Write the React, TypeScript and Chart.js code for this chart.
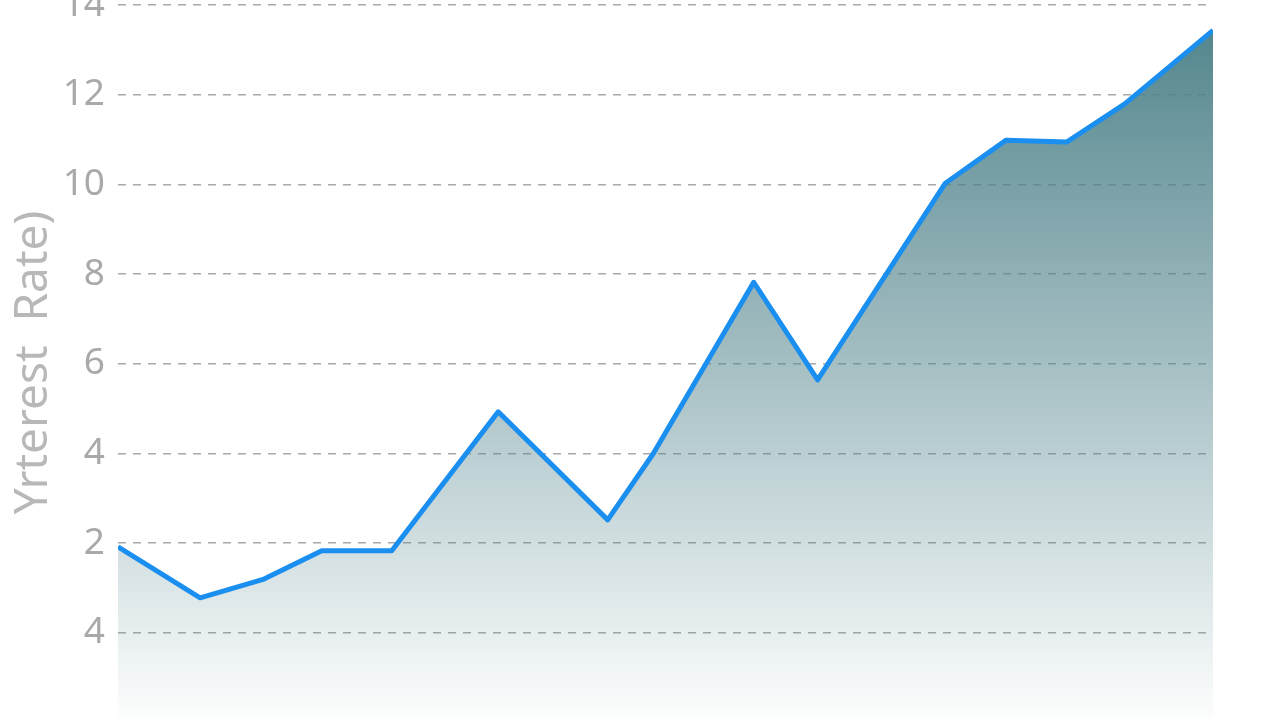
import { useEffect, useRef } from 'react';
import { Chart, registerables } from 'chart.js';

Chart.register(...registerables);

// years (fractional) and rate values
const years = [2006.0, 2007.35, 2008.4, 2009.35, 2010.5, 2012.25, 2014.05, 2014.8, 2016.45, 2017.5, 2019.6, 2020.6, 2021.6, 2022.55, 2024.0];
const rates = [1.92, 0.78, 1.2, 1.83, 1.83, 4.93, 2.52, 4.0, 7.82, 5.64, 10.03, 10.99, 10.95, 11.8, 13.44];

const tickValues = [0, 2, 4, 6, 8, 10, 12, 14];
const tickLabels = ['4', '2', '4', '6', '8', '10', '12', '14'];
const yTitle = 'Yrterest  Rate)';

export default function App() {
  const chartRef = useRef<HTMLCanvasElement>(null);
  const chartInstance = useRef<Chart | null>(null);

  useEffect(() => {
    if (!chartRef.current) return;
    if (chartInstance.current) chartInstance.current.destroy();
    const ctx = chartRef.current.getContext('2d');
    if (!ctx) return;

    chartInstance.current = new Chart(ctx, {
      type: 'line',
      data: {
        datasets: [{
          data: years.map((x, i) => ({ x, y: rates[i] })),
          borderColor: '#1b8ff0',
          borderWidth: 5,
          borderJoinStyle: 'round',
          tension: 0,
          pointRadius: 0,
          fill: 'start',
          backgroundColor: (c: any) => {
            const area = c.chart.chartArea;
            if (!area) return 'rgba(84,132,140,0.5)';
            const g = c.chart.ctx.createLinearGradient(0, area.top, 0, area.bottom);
            g.addColorStop(0, 'rgba(78,130,138,1)');
            g.addColorStop(0.5, 'rgba(82,132,140,0.52)');
            g.addColorStop(1, 'rgba(82,132,140,0.01)');
            return g;
          },
        }],
      },
      options: {
        animation: false,
        responsive: true,
        maintainAspectRatio: false,
        layout: { padding: { top: 0, right: 67, left: 0, bottom: 0 } },
        plugins: { legend: { display: false }, tooltip: { enabled: false } },
        scales: {
          x: { type: 'linear', min: 2006, max: 2024, display: false },
          y: {
            min: -1.94,
            max: 14,
            afterBuildTicks: (scale: any) => {
              scale.ticks = tickValues.map(v => ({ value: v }));
            },
            afterFit: (scale: any) => {
              scale.width = 118;
            },
            ticks: {
              padding: 13,
              color: '#a9a9a9',
              font: { family: 'Noto Sans', size: 37 },
              callback: (v: any) => {
                const i = tickValues.indexOf(Number(v));
                return i >= 0 ? tickLabels[i] : '';
              },
            },
            grid: {
              drawTicks: false,
              color: 'rgba(140,140,140,0.75)',
              lineWidth: 1.5,
            },
            border: { display: false, dash: [8, 7] },
            title: {
              display: true,
              text: yTitle,
              color: '#b8b8b8',
              font: { family: 'Noto Sans', size: 46 },
              padding: { top: 6, bottom: 0 },
            },
          },
        },
      },
    });

    return () => {
      if (chartInstance.current) chartInstance.current.destroy();
    };
  }, []);

  return (
    <div style={{ position: 'fixed', left: 0, top: -30, width: 1280, height: 785, background: '#fff' }}>
      <canvas ref={chartRef} />
    </div>
  );
}
